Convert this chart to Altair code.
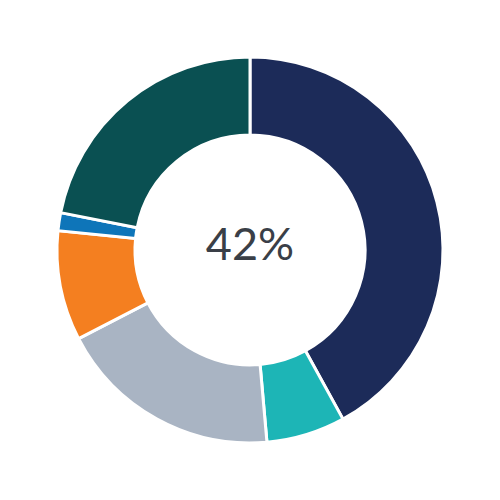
import altair as alt
import pandas as pd

categories = ["A", "B", "C", "D", "E", "F"]
values = [42.0, 6.6, 18.8, 9.2, 1.5, 21.9]
colors = ["#1c2b59", "#1db5b6", "#a9b4c3", "#f47f20", "#0e75b9", "#0a5052"]
center_label = "42%"

df = pd.DataFrame({"cat": categories, "value": values, "order": list(range(len(categories)))})

arcs = alt.Chart(df).mark_arc(radius=193, radius2=115, stroke="white", strokeWidth=3).encode(
    theta=alt.Theta("value:Q", stack=True),
    color=alt.Color("cat:N", scale=alt.Scale(domain=categories, range=colors), legend=None),
    order=alt.Order("order:Q"),
)

label = alt.Chart(pd.DataFrame({"t": [center_label]})).mark_text(
    font="Lato", fontWeight="normal", fontSize=45, color="#3a3f47", baseline="middle", align="center"
).encode(
    text="t:N",
    x=alt.value(242),
    y=alt.value(238),
)

chart = (arcs + label).properties(width=484, height=484, padding=0).configure_view(stroke=None)

chart.save("out.html", embed_options={"renderer": "svg", "actions": False})
